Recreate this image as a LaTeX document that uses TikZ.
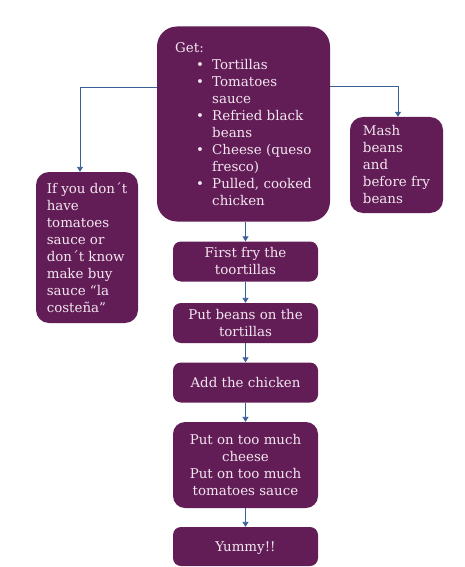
\documentclass[tikz,border=0pt]{standalone}
\usepackage{fontspec}
\setmainfont{DejaVu Serif}
\usetikzlibrary{arrows.meta}
\definecolor{plum}{HTML}{621D57}
\definecolor{boxtext}{HTML}{F3E6EF}
\definecolor{conncol}{HTML}{3A6096}
\newcommand{\bul}{\makebox[16pt][l]{\textbullet}}
\newcommand{\ind}{\makebox[16pt][l]{}}
\tikzset{
  box/.style={fill=plum, text=boxtext, inner sep=0pt, font=\fontsize{13.4}{17}\selectfont},
  conn/.style={draw=conncol, line width=0.9pt, -{Triangle[width=6pt,length=5pt]}},
}
\begin{document}
\begin{tikzpicture}[x=1pt,y=-1pt]
\useasboundingbox (0,0) rectangle (464,567);
\node[box, rounded corners=20pt, minimum width=173pt, minimum height=195pt, align=left] (get) at (243.5,124)
  {Get:\\
   \hspace{21pt}\bul Tortillas\\
   \hspace{21pt}\bul Tomatoes\\
   \hspace{21pt}\ind sauce\\
   \hspace{21pt}\bul Refried black\\
   \hspace{21pt}\ind beans\\
   \hspace{21pt}\bul Cheese (queso\\
   \hspace{21pt}\ind fresco)\\
   \hspace{21pt}\bul Pulled, cooked\\
   \hspace{21pt}\ind chicken};
\node[box, rounded corners=13pt, minimum width=102pt, minimum height=151pt, align=left] (left) at (87,247.5)
  {If you don´t\\have\\tomatoes\\sauce or\\don´t know\\make buy\\sauce “la\\costeña”};
\node[box, rounded corners=13pt, minimum width=93pt, minimum height=96pt, align=left] (right) at (396.5,165)
  {Mash\\beans\\and\\before fry\\beans};
\node[box, rounded corners=8pt, minimum width=145pt, minimum height=40pt, align=center] (fry) at (245.5,261.5)
  {First fry the\\toortillas};
\node[box, rounded corners=8pt, minimum width=145pt, minimum height=40pt, align=center] (beans) at (245.5,323)
  {Put beans on the\\tortillas};
\node[box, rounded corners=8pt, minimum width=145pt, minimum height=40pt, align=center] (chicken) at (245.5,382.5)
  {Add the chicken};
\node[box, rounded corners=12pt, minimum width=145pt, minimum height=86pt, align=center] (cheese) at (245.5,465)
  {Put on too much\\cheese\\Put on too much\\tomatoes sauce};
\node[box, rounded corners=8pt, minimum width=145pt, minimum height=39pt, align=center, text depth=0pt] (yummy) at (245.5,546.5)
  {Yummy!!};
\coordinate (lturn) at (80,87);
\coordinate (rturn) at (398,86);
\draw[conn] (get.west |- lturn) -- (lturn) -- (lturn |- left.north);
\draw[conn] (get.east |- rturn) -- (rturn) -- (rturn |- right.north);
\draw[conn] (get.south -| fry.north) -- (fry.north);
\draw[conn] (fry) -- (beans);
\draw[conn] (beans) -- (chicken);
\draw[conn] (chicken) -- (cheese);
\draw[conn] (cheese) -- (yummy);
\end{tikzpicture}
\end{document}
